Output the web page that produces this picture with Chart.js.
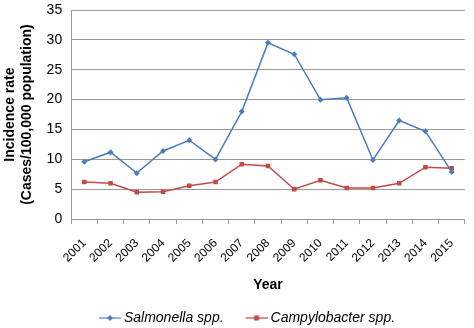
<!DOCTYPE html>
<html><head><meta charset="utf-8">
<script src="https://cdn.jsdelivr.net/npm/chart.js@4/dist/chart.umd.min.js"></script>
<style>html,body{margin:0;padding:0;background:#fff}#w{width:474px;height:328px}</style>
</head><body><div id="w"><canvas id="c"></canvas></div>
<script>
const years = ["2001","2002","2003","2004","2005","2006","2007","2008","2009","2010","2011","2012","2013","2014","2015"];
const salmonella = [9.6,11.2,7.7,11.4,13.2,10.0,18.0,29.5,27.6,20.0,20.3,9.9,16.5,14.7,7.9];
const campylobacter = [6.2,6.0,4.5,4.6,5.6,6.2,9.2,8.9,5.0,6.5,5.2,5.2,6.0,8.7,8.5];
const yTicks = [0,5,10,15,20,25,30,35];

const BLUE = '#4a7ebb', RED = '#be4b48';
const FONT = '"Liberation Sans", Arial, sans-serif';

function legendIcon(color, style){
  const c = document.createElement('canvas');
  c.width = 44; c.height = 10;
  const x = c.getContext('2d');
  x.strokeStyle = color; x.lineWidth = 1.2;
  x.beginPath(); x.moveTo(22,5); x.lineTo(44,5); x.stroke();
  x.fillStyle = color;
  if (style === 'rect') x.fillRect(30.5,2.5,5,5);
  else { x.beginPath(); x.moveTo(33,2); x.lineTo(36,5); x.lineTo(33,8); x.lineTo(30,5); x.closePath(); x.fill(); }
  return c;
}

new Chart(document.getElementById('c'), {
  type: 'line',
  data: {
    labels: years,
    datasets: [
      {label: 'Salmonella spp.', data: salmonella, borderColor: BLUE, backgroundColor: BLUE,
       borderWidth: 1.5, pointStyle: 'rectRot', pointRadius: 3, pointBorderWidth: 0, tension: 0},
      {label: 'Campylobacter spp.', data: campylobacter, borderColor: RED, backgroundColor: RED,
       borderWidth: 1.5, pointStyle: 'rect', pointRadius: 3.2, pointBorderWidth: 0, tension: 0}
    ]
  },
  options: {
    responsive: true, maintainAspectRatio: false, animation: false,
    layout: {padding: {left: 2, right: 0, top: 0, bottom: -7}},
    plugins: {
      tooltip: {enabled: false},
      legend: {
        position: 'bottom',
        labels: {
          font: {family: FONT, size: 14, style: 'italic'}, color: '#000',
          usePointStyle: true, pointStyleWidth: 36, boxWidth: 36, boxHeight: 10, padding: 4,
          generateLabels: (chart) => chart.data.datasets.map((d, i) => ({
            text: d.label, fillStyle: d.borderColor, strokeStyle: d.borderColor,
            pointStyle: legendIcon(d.borderColor, i === 0 ? 'diamond' : 'rect'),
            datasetIndex: i, hidden: false, lineWidth: 0, fontColor: '#000'
          }))
        }
      }
    },
    scales: {
      x: {
        offset: true,
        grid: {display: true, drawOnChartArea: false, drawTicks: true, tickLength: 5, offset: true, color: '#999'},
        border: {display: true, color: '#999'},
        ticks: {font: {family: FONT, size: 12}, color: '#000', autoSkip: false, maxRotation: 45, minRotation: 45, padding: 12},
        title: {display: true, text: 'Year', font: {family: FONT, size: 14, weight: 'bold'}, color: '#000', padding: {top: 0, bottom: 13}}
      },
      y: {
        min: 0, max: 35,
        afterBuildTicks: (s) => { s.ticks = yTicks.map(v => ({value: v})); },
        afterFit: (s) => { s.paddingTop = 10; },
        grid: {color: '#999', drawTicks: false, lineWidth: 1},
        border: {display: true, color: '#999'},
        ticks: {font: {family: FONT, size: 14}, color: '#000', padding: 9},
        title: {display: true, text: ['Incidence rate', '(Cases/100,000 population)'],
                font: {family: FONT, size: 14, weight: 'bold'}, color: '#000', padding: {top: 0, bottom: 2}}
      }
    }
  }
});
</script>
</body></html>
